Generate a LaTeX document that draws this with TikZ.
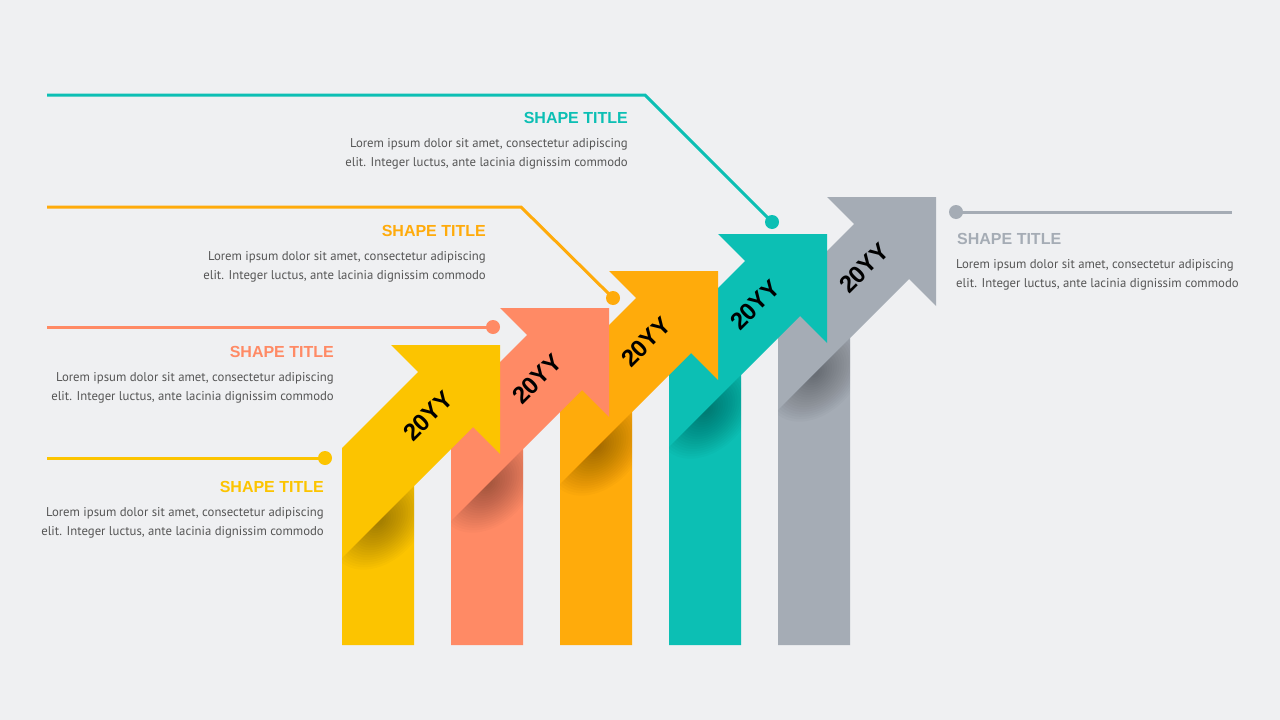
\documentclass[tikz,border=0pt]{standalone}
\usepackage{fontspec}
\setmainfont{PT Sans}
\newfontfamily\titlefont{Liberation Sans}
\definecolor{bgc}{HTML}{EFF0F2}
\definecolor{cyellow}{HTML}{FCC400}
\definecolor{csalmon}{HTML}{FF8A65}
\definecolor{corange}{HTML}{FFAB0B}
\definecolor{cteal}{HTML}{0CBFB4}
\definecolor{cgray}{HTML}{A5ACB5}
\definecolor{txt}{HTML}{555555}
\begin{document}
\begin{tikzpicture}[x=1pt,y=-1pt,
  yearlab/.style={font=\titlefont\bfseries\fontsize{24}{24}\selectfont, text=black, rotate=45, inner sep=0pt},
  dot/.style={circle, inner sep=0pt, minimum size=14pt},
  leader/.style={line width=3pt},
  stitle/.style={font=\titlefont\bfseries\fontsize{16}{16}\selectfont, inner sep=0pt},
  body/.style={font=\fontsize{12.75}{19}\selectfont, text=txt, inner sep=0pt}]
\useasboundingbox[fill=bgc] (0,0) rectangle (1280,720);

% arrows, back to front
\foreach \k/\col/\nm in {4/cgray/g,3/cteal/t,2/corange/o,1/csalmon/s,0/cyellow/y}{
  \pgfmathsetmacro{\bot}{645+37*\k}
  \begin{scope}[shift={(109*\k,-37*\k)}]
    \fill[\col] (342,\bot) -- (342,448) -- (418,372) -- (391,345) -- (500,345)
      -- (500,454) -- (473,427) -- (414,486) -- (414,\bot) -- cycle;
    \begin{scope}
      \clip (342,558) -- (414,486) -- (414,645) -- (342,645) -- cycle;
      \foreach \s in {1.0,0.95,...,0.06}{
        \fill[black, opacity=0.02, rotate around={45:(379,521)}]
          (379,521) ellipse [x radius=56*\s, y radius=40*\s];
      }
    \end{scope}
    \node[yearlab] (lab\nm) at (428,416) {20YY};
  \end{scope}
}

% leader lines and dots
\node[dot, fill=cteal] (dt) at (772,222) {};
\coordinate (lt) at (47,95);
\coordinate (bt) at (645,95);
\draw[leader, cteal] (lt) -- (bt) -- (dt.center);

\node[dot, fill=corange] (do) at (613,298) {};
\coordinate (lo) at (47,207);
\coordinate (bo) at (521,207);
\draw[leader, corange] (lo) -- (bo) -- (do.center);

\node[dot, fill=csalmon] (ds) at (493,327) {};
\coordinate (ls) at (47,327);
\draw[leader, csalmon] (ls) -- (ds.center);

\node[dot, fill=cyellow] (dy) at (325,458) {};
\coordinate (ly) at (47,458);
\draw[leader, cyellow] (ly) -- (dy.center);

\node[dot, fill=cgray] (dg) at (956,212) {};
\coordinate (rg) at (1232,212);
\draw[leader, cgray] (dg.center) -- (rg);

% texts
\node[stitle, text=cteal, anchor=base east] (tt) at (628,123) {SHAPE TITLE};
\node[body, anchor=base east] (bt1) at (628,147) {Lorem ipsum dolor sit amet, consectetur adipiscing};
\node[body, anchor=base east] (bt2) at (628,166) {elit. Integer luctus, ante lacinia dignissim commodo};

\node[stitle, text=corange, anchor=base east] (to) at (486,236) {SHAPE TITLE};
\node[body, anchor=base east] (bo1) at (486,260) {Lorem ipsum dolor sit amet, consectetur adipiscing};
\node[body, anchor=base east] (bo2) at (486,279) {elit. Integer luctus, ante lacinia dignissim commodo};

\node[stitle, text=csalmon, anchor=base east] (ts) at (334,357) {SHAPE TITLE};
\node[body, anchor=base east] (bs1) at (334,381) {Lorem ipsum dolor sit amet, consectetur adipiscing};
\node[body, anchor=base east] (bs2) at (334,400) {elit. Integer luctus, ante lacinia dignissim commodo};

\node[stitle, text=cyellow, anchor=base east] (ty) at (324,492) {SHAPE TITLE};
\node[body, anchor=base east] (by1) at (324,516) {Lorem ipsum dolor sit amet, consectetur adipiscing};
\node[body, anchor=base east] (by2) at (324,535) {elit. Integer luctus, ante lacinia dignissim commodo};

\node[stitle, text=cgray, anchor=base west] (tg) at (957,244) {SHAPE TITLE};
\node[body, anchor=base west] (bg1) at (956,268) {Lorem ipsum dolor sit amet, consectetur adipiscing};
\node[body, anchor=base west] (bg2) at (956,287) {elit. Integer luctus, ante lacinia dignissim commodo};
\end{tikzpicture}
\end{document}
